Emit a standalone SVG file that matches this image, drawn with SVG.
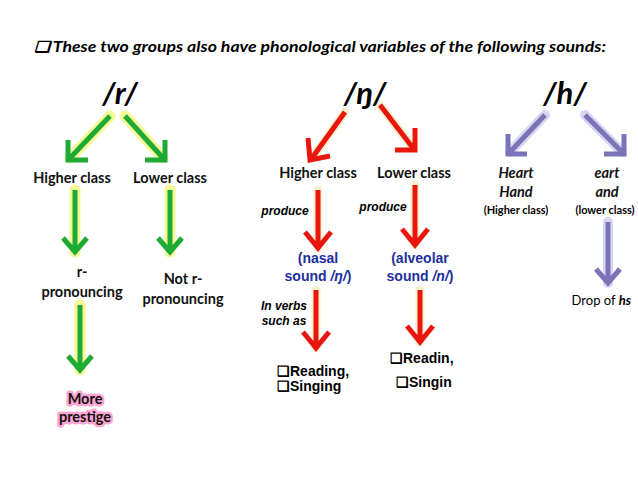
<svg xmlns="http://www.w3.org/2000/svg" width="638" height="478" viewBox="0 0 638 478">
<style>
text{font-family:Lato,"Open Sans","Liberation Sans",sans-serif}
.c{text-anchor:middle}
.s{text-anchor:start}
.e{text-anchor:end}
.t{font-size:15px;font-weight:bold;font-style:italic}
.ph{font-size:31px;font-weight:bold;font-style:italic}
.l{font-size:14.5px;font-weight:bold;fill:#111}
.a{font-family:"Liberation Sans",sans-serif;font-size:14px;font-weight:bold}
.bl{fill:#1c2fa0}
.it{font-family:"Liberation Sans",sans-serif;font-size:12px;font-weight:bold;font-style:italic}
.glow{fill:none;stroke:#f3f77a;stroke-width:11;stroke-linecap:round;stroke-linejoin:round;opacity:.8}
.g{fill:none;stroke:#1faa36;stroke-width:5}
.r{fill:none;stroke:#e8160c;stroke-width:5}
.rglow{fill:none;stroke:#f4ecc4;stroke-width:9;stroke-linecap:round;opacity:.8}
.p{fill:none;stroke:#7b73b8;stroke-width:5}
.pglow{fill:none;stroke:#c8c6ec;stroke-width:10;stroke-linecap:round;opacity:.7}
.pk{stroke:#ff7fc0;stroke-width:5;stroke-linejoin:round;opacity:.7}
</style>
<rect width="638" height="478" fill="#fff"/>
<text class="t s" x="34" y="52" textLength="572" lengthAdjust="spacingAndGlyphs">❑ These two groups also  have phonological variables of the following sounds:</text>
<g id="connectors">
<path class="glow" d="M110 116L70 158M125 116L163 158M75 190V252M170 190V252M80 305V370"/>
<path class="g" d="M110 116L70 158M68 140V160H88M125 116L163 158M145 160H165V140M75 190V252M63 238L75 252L87 238M170 190V252M158 238L170 252L182 238M80 305V370M68 356L80 370L92 356"/>
<path class="rglow" d="M345 112L312 158M380 105L413 148M318 190V248M415 185V245M316 290V348M420 290V342"/>
<path class="r" d="M345 112L312 158M308 138L310 160L330 156M380 105L413 148M395 150L415 150L415 128M318 190V248M305 232L318 248L331 232M415 185V245M402 229L415 245L428 229M316 290V348M303 332L316 348L329 332M420 290V342M407 326L420 342L433 326"/>
<path class="pglow" d="M545 115L510 152M585 115L622 152M608 222V283"/>
<path class="p" d="M545 115L510 152M508 134V154H527M585 115L622 152M604 154H624V134M608 222V283M596 269L608 283L620 269"/>
</g>
<g id="r"><text class="ph c" x="120" y="104">/r/</text></g>
<g id="r-high"><text class="l c" x="72" y="183">Higher class</text></g>
<g id="r-low"><text class="l c" x="170" y="183">Lower class</text></g>
<g id="r-pron"><text class="l c" x="82" y="277">r-</text><text class="l c" x="82" y="297">pronouncing</text></g>
<g id="r-notpron"><text class="l c" x="183" y="284">Not r-</text><text class="l c" x="183" y="304">pronouncing</text></g>
<g id="prestige"><text class="l c pk" x="85" y="404">More</text><text class="l c pk" x="85" y="422">prestige</text><text class="l c" x="85" y="404" fill="#8a0045">More</text><text class="l c" x="85" y="422" fill="#8a0045">prestige</text></g>
<g id="ng"><text class="ph c" x="365" y="104">/ŋ/</text></g>
<g id="ng-high"><text class="l c" x="318" y="178">Higher class</text></g>
<g id="ng-low"><text class="l c" x="414" y="178">Lower class</text></g>
<text class="it c" x="285" y="215">produce</text>
<text class="it c" x="383" y="211">produce</text>
<g id="nasal"><text class="a bl c" x="318" y="263">(nasal</text><text class="a bl c" x="318" y="281">sound <tspan font-style="italic">/ŋ/</tspan>)</text></g>
<g id="alveolar"><text class="a bl c" x="420" y="263">(alveolar</text><text class="a bl c" x="420" y="281">sound <tspan font-style="italic">/n/</tspan>)</text></g>
<text class="it c" x="284" y="310">In verbs</text>
<text class="it c" x="284" y="325">such as</text>
<g id="reading"><text class="a s" x="277" y="376">❑Reading,</text><text class="a s" x="277" y="391">❑Singing</text></g>
<g id="readin"><text class="a s" x="390" y="363">❑Readin,</text><text class="a s" x="396" y="387">❑Singin</text></g>
<g id="h"><text class="ph c" x="565" y="104">/h/</text></g>
<g id="h-high"><text class="l c" x="516" y="178" fill="#e8160c" font-style="italic">Heart</text><text class="l c" x="516" y="197" fill="#e8160c" font-style="italic">Hand</text><text class="c" x="516" y="214" font-size="11" font-weight="bold">(Higher class)</text></g>
<g id="h-low"><text class="l c" x="607" y="178" fill="#e8160c" font-style="italic">eart</text><text class="l c" x="607" y="197" fill="#e8160c" font-style="italic">and</text><text class="c" x="605" y="214" font-size="11" font-weight="bold">(lower class)</text></g>
<g id="drop"><text class="e" x="631" y="305" font-family="Liberation Sans,sans-serif" font-size="13">Drop of <tspan font-weight="bold" font-style="italic">hs</tspan></text></g>
</svg>
